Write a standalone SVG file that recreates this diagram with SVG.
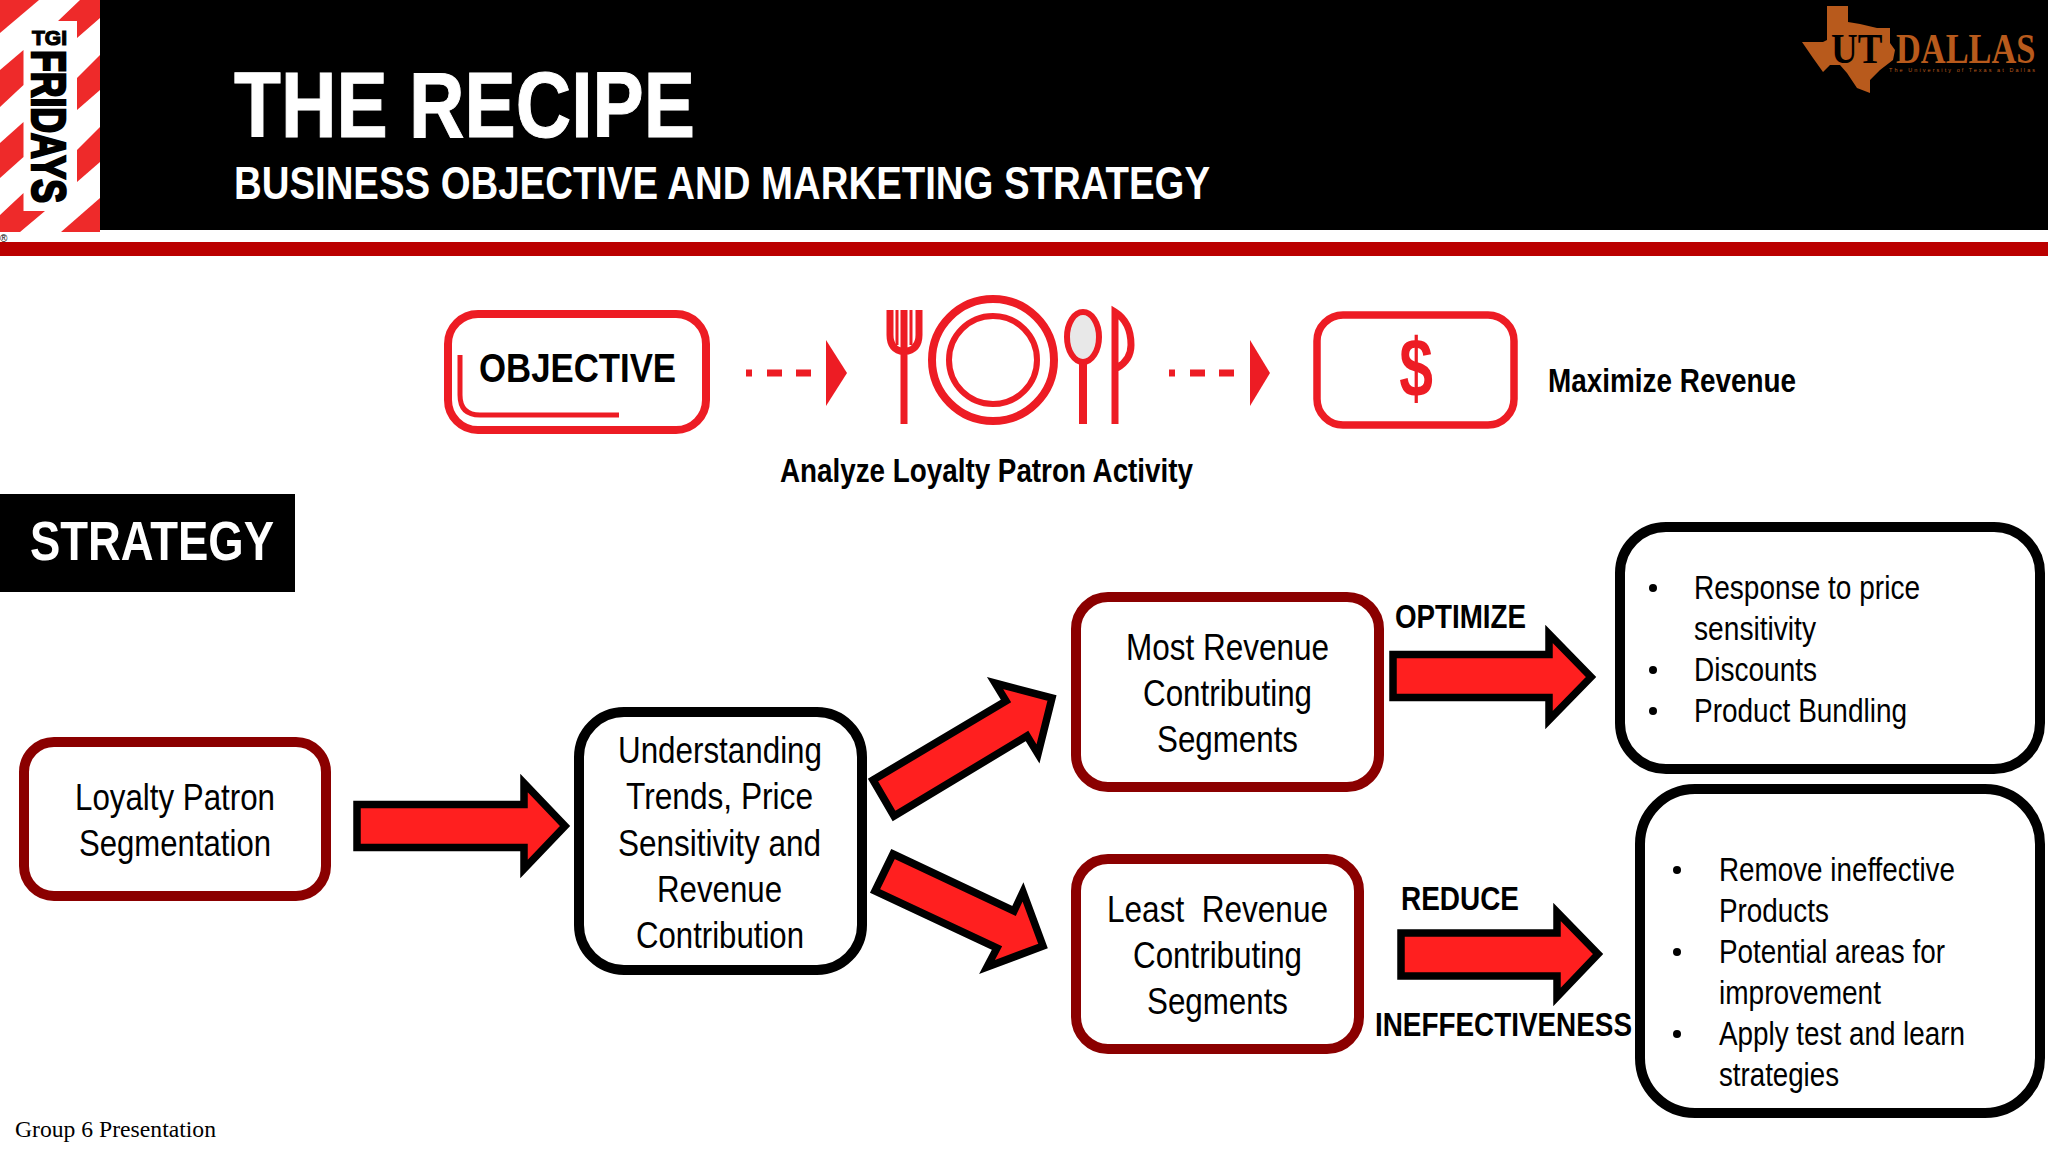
<svg xmlns="http://www.w3.org/2000/svg" width="2048" height="1152" viewBox="0 0 2048 1152">
<style>
text{font-family:"Liberation Sans",Arial,sans-serif;fill:#000}
.b{font-weight:700}
.n{font-size:37px;text-anchor:start}
.l{font-size:34px}
.lab{font-size:33px;font-weight:700}
.box{fill:#fff;stroke-width:10}
.dr{stroke:#8b0000}
.bk{stroke:#000}
.arrow{fill:#ff1f1f;stroke:#000;stroke-width:7.5;stroke-linejoin:miter;stroke-miterlimit:10}
.ic{fill:none;stroke:#ed1c24}
.icf{fill:#ed1c24}
.dash{fill:none;stroke:#ed1c24;stroke-width:7}
.lr{fill:#ee2a2a}
</style>
<rect width="2048" height="1152" fill="#fff"/>
<g id="header">
<rect x="0" y="0" width="2048" height="230" fill="#000"/>
<rect x="0" y="242" width="2048" height="14" fill="#bb0000"/>
<text x="234" y="137" class="b" font-size="92" style="fill:#fff" stroke="#fff" stroke-width="1" textLength="461" lengthAdjust="spacingAndGlyphs">THE RECIPE</text>
<text x="234" y="199" class="b" font-size="46" style="fill:#fff" textLength="976" lengthAdjust="spacingAndGlyphs">BUSINESS OBJECTIVE AND MARKETING STRATEGY</text>
</g>
<g id="tgi-logo">
<rect x="0" y="0" width="100" height="232" fill="#fff"/>
<polygon class="lr" points="0,0 39,0 0,33"/>
<polygon class="lr" points="0,70 23.5,50 23.5,85 0,107"/>
<polygon class="lr" points="0,143 23.5,122 23.5,157 0,178"/>
<polygon class="lr" points="0,215 23.5,193 23.5,211 45,211 20,232 0,232"/>
<polygon class="lr" points="58,21 80,0 100,0 100,18 77,38 77,21"/>
<polygon class="lr" points="77,78 100,55 100,90 77,110"/>
<polygon class="lr" points="77,150 100,127 100,162 77,182"/>
<polygon class="lr" points="61,232 100,198 100,232"/>
<text x="32" y="45" class="b" font-size="21" textLength="35" lengthAdjust="spacingAndGlyphs" stroke="#000" stroke-width="1.2">TGI</text>
<text transform="translate(32,50) rotate(90)" class="b" font-size="49" textLength="153" lengthAdjust="spacingAndGlyphs" stroke="#000" stroke-width="2.6">FRIDAYS</text>
<text x="0" y="242" font-size="10">®</text>
</g>
<g id="utd-logo">
<polygon points="1827,6 1848,6 1848,22 1860,24 1877,28 1890,28 1890,43 1895,50 1893,60 1880,70 1870,80 1870,93 1857,88 1847,73 1840,65 1830,65 1823,72 1813,58 1802,42 1823,42 1827,40" fill="#b85a1c"/>
<text transform="translate(1831,63) scale(.86,1)" font-size="43" class="b" style="font-family:'Liberation Serif',serif;fill:#000">UT</text>
<text transform="translate(1896,63) scale(.8,1)" font-size="43" class="b" style="font-family:'Liberation Serif',serif;fill:#b85a1c">DALLAS</text>
<text x="1889" y="72" font-size="5.5" style="fill:#b85a1c" textLength="146">The University of Texas at Dallas</text>
</g>
<g id="objective">
<rect x="448" y="314" width="258" height="116" rx="30" fill="#fff" stroke="#ed1c24" stroke-width="8"/>
<path d="M460,355 V395 Q460,415 480,415 H619" class="ic" stroke-width="5"/>
<text x="479" y="382" class="b" font-size="40" textLength="197" lengthAdjust="spacingAndGlyphs">OBJECTIVE</text>
</g>
<g id="plate-icon">
<path d="M890,310 V335 Q890,350 904,352 Q919,350 919,335 V310 M904,310 V424" class="ic" stroke-width="7"/>
<path d="M897,310 V345 M911,310 V345" class="ic" stroke-width="3"/>
<circle cx="993" cy="360" r="61" class="ic" stroke-width="8"/>
<circle cx="993" cy="360" r="44" class="ic" stroke-width="6"/>
<ellipse cx="1083" cy="337" rx="16" ry="25" fill="#e8e8e8" stroke="#ed1c24" stroke-width="6"/>
<path d="M1083,362 V424" class="ic" stroke-width="8"/>
<path d="M1115,424 V312 Q1131,322 1131,345 Q1131,360 1117,368" class="ic" stroke-width="7"/>
<text x="780" y="482" class="b" font-size="33" textLength="413" lengthAdjust="spacingAndGlyphs">Analyze Loyalty Patron Activity</text>
</g>
<g id="revenue">
<rect x="1317" y="315" width="197" height="110" rx="26" fill="#fff" stroke="#ed1c24" stroke-width="7.5"/>
<text transform="translate(1416,397) scale(.73,1)" class="b" font-size="83" text-anchor="middle" style="fill:#ed1c24">$</text>
<text x="1548" y="392" class="b" font-size="33" textLength="248" lengthAdjust="spacingAndGlyphs">Maximize Revenue</text>
</g>
<g id="strategy">
<rect x="0" y="494" width="295" height="98" fill="#000"/>
<text x="30" y="560" class="b" font-size="56" style="fill:#fff" textLength="244" lengthAdjust="spacingAndGlyphs">STRATEGY</text>
</g>
<g id="connectors">
<path class="dash" d="M746,373 H752 M767,373 H782 M796,373 H811"/>
<polygon class="icf" points="826,340 847,373 826,406"/>
<path class="dash" d="M1169,373 H1175 M1190,373 H1205 M1219,373 H1234"/>
<polygon class="icf" points="1250,340 1270,373 1250,406"/>
<polygon class="arrow" points="357,804.5 524,804.5 524,783 565,826 524,869 524,847.5 357,847.5"/>
<polygon class="arrow" points="873,780 1006,701 995,683 1052,698 1038,754 1027,736 894,816"/>
<polygon class="arrow" points="893,854 1014,911 1023,892 1043,946 987,967 997,948 875,891"/>
<polygon class="arrow" points="1393,654.5 1549,654.5 1549,634 1591,677 1549,720 1549,697.5 1393,697.5"/>
<polygon class="arrow" points="1401,933 1557,933 1557,912 1598,954 1557,997 1557,976 1401,976"/>
</g>
<g id="n-loyalty">
<rect x="24" y="742" width="302" height="154" rx="30" class="box dr"/>
<text x="75" y="810" class="n" textLength="200" lengthAdjust="spacingAndGlyphs">Loyalty Patron</text>
<text x="79" y="856" class="n" textLength="192" lengthAdjust="spacingAndGlyphs">Segmentation</text>
</g>
<g id="n-understanding">
<rect x="579" y="712" width="283" height="258" rx="45" class="box bk"/>
<text x="618" y="763" class="n" textLength="204" lengthAdjust="spacingAndGlyphs">Understanding</text>
<text x="626" y="809" class="n" textLength="187" lengthAdjust="spacingAndGlyphs">Trends, Price</text>
<text x="618" y="856" class="n" textLength="203" lengthAdjust="spacingAndGlyphs">Sensitivity and</text>
<text x="657" y="902" class="n" textLength="125" lengthAdjust="spacingAndGlyphs">Revenue</text>
<text x="636" y="948" class="n" textLength="168" lengthAdjust="spacingAndGlyphs">Contribution</text>
</g>
<g id="n-most">
<rect x="1076" y="597" width="303" height="190" rx="32" class="box dr"/>
<text x="1126" y="660" class="n" textLength="203" lengthAdjust="spacingAndGlyphs">Most Revenue</text>
<text x="1143" y="706" class="n" textLength="169" lengthAdjust="spacingAndGlyphs">Contributing</text>
<text x="1157" y="752" class="n" textLength="141" lengthAdjust="spacingAndGlyphs">Segments</text>
</g>
<g id="n-least">
<rect x="1076" y="859" width="283" height="190" rx="32" class="box dr"/>
<text x="1107" y="922" class="n" style="white-space:pre" textLength="221" lengthAdjust="spacingAndGlyphs">Least  Revenue</text>
<text x="1133" y="968" class="n" textLength="169" lengthAdjust="spacingAndGlyphs">Contributing</text>
<text x="1147" y="1014" class="n" textLength="141" lengthAdjust="spacingAndGlyphs">Segments</text>
</g>
<g id="n-optimize-list">
<rect x="1620" y="527" width="420" height="242" rx="46" class="box bk"/>
<circle cx="1653" cy="588" r="4"/><circle cx="1653" cy="670" r="4"/><circle cx="1653" cy="711" r="4"/>
<text x="1694" y="599" class="l" textLength="226" lengthAdjust="spacingAndGlyphs">Response to price</text>
<text x="1694" y="640" class="l" textLength="122" lengthAdjust="spacingAndGlyphs">sensitivity</text>
<text x="1694" y="681" class="l" textLength="123" lengthAdjust="spacingAndGlyphs">Discounts</text>
<text x="1694" y="722" class="l" textLength="213" lengthAdjust="spacingAndGlyphs">Product Bundling</text>
</g>
<g id="n-reduce-list">
<rect x="1640" y="789" width="400" height="324" rx="55" class="box bk"/>
<circle cx="1677" cy="870" r="4"/><circle cx="1677" cy="952" r="4"/><circle cx="1677" cy="1034" r="4"/>
<text x="1719" y="881" class="l" textLength="236" lengthAdjust="spacingAndGlyphs">Remove ineffective</text>
<text x="1719" y="922" class="l" textLength="110" lengthAdjust="spacingAndGlyphs">Products</text>
<text x="1719" y="963" class="l" textLength="226" lengthAdjust="spacingAndGlyphs">Potential areas for</text>
<text x="1719" y="1004" class="l" textLength="162" lengthAdjust="spacingAndGlyphs">improvement</text>
<text x="1719" y="1045" class="l" textLength="246" lengthAdjust="spacingAndGlyphs">Apply test and learn</text>
<text x="1719" y="1086" class="l" textLength="120" lengthAdjust="spacingAndGlyphs">strategies</text>
</g>
<g id="labels">
<text x="1395" y="628" class="lab" textLength="131" lengthAdjust="spacingAndGlyphs">OPTIMIZE</text>
<text x="1401" y="910" class="lab" textLength="118" lengthAdjust="spacingAndGlyphs">REDUCE</text>
<text x="1375" y="1036" class="lab" textLength="257" lengthAdjust="spacingAndGlyphs">INEFFECTIVENESS</text>
<text x="15" y="1137" font-size="23" style="font-family:'Liberation Serif',serif" textLength="201" lengthAdjust="spacingAndGlyphs">Group 6 Presentation</text>
</g>
</svg>
